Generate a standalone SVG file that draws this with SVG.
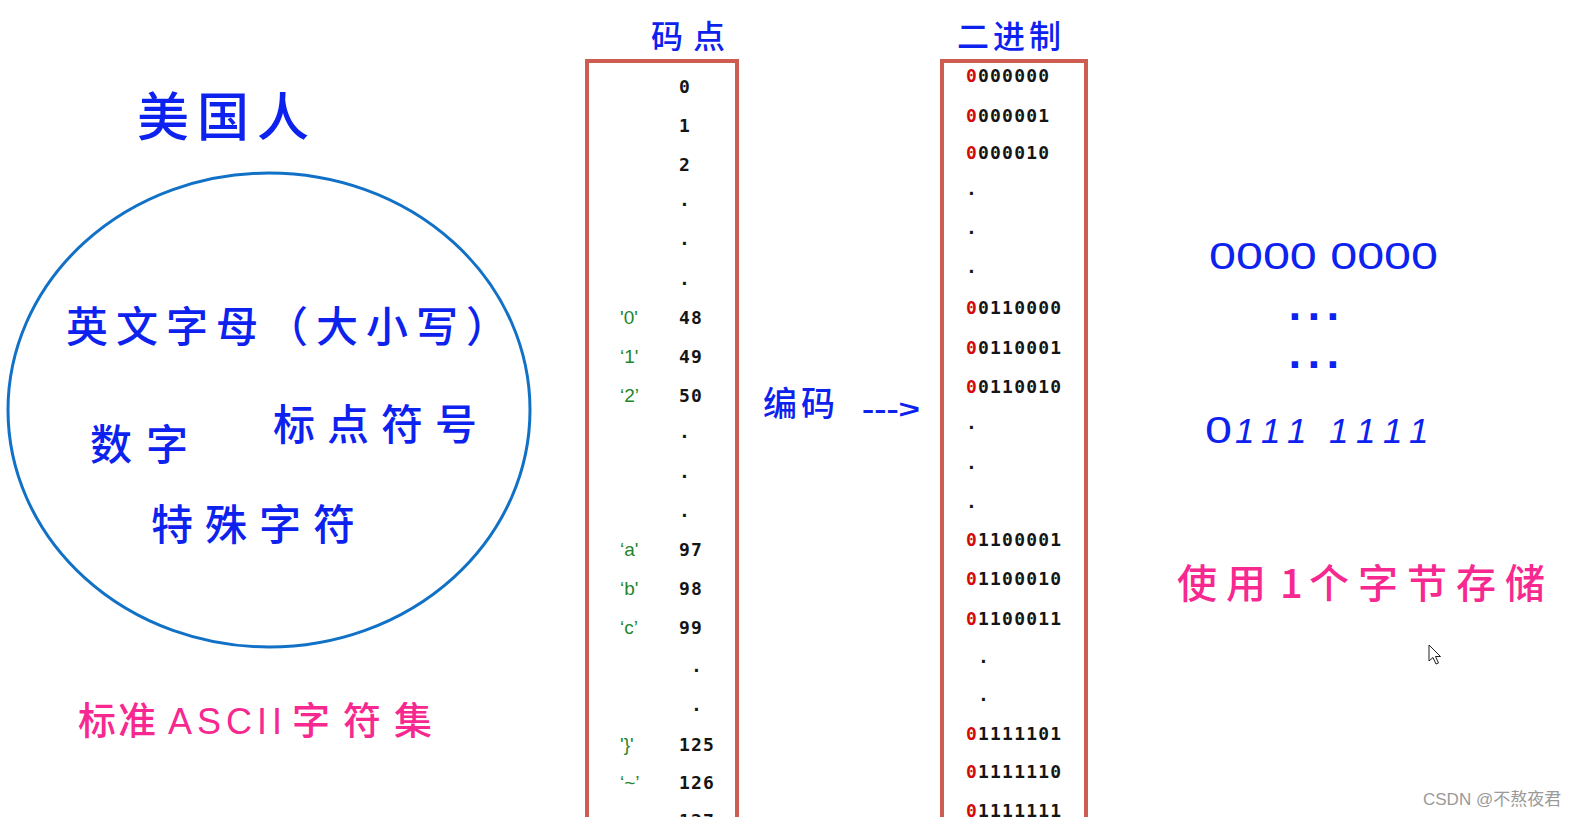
<svg xmlns="http://www.w3.org/2000/svg" width="1575" height="817" viewBox="0 0 1575 817">
<style>
.mono{font-family:"DejaVu Sans Mono","Liberation Mono",monospace;font-weight:bold;font-size:18px;letter-spacing:1.2px;fill:#151515}
.red{fill:#d40a0a}
.g{font-family:"Liberation Sans",Arial,sans-serif;font-size:19px;fill:#22862b}
.cjk{font-family:"Noto Sans CJK SC",sans-serif;font-weight:500}
.blue{fill:#0d22ee}
.pink{fill:#f7288f}
.box{fill:none;stroke:#cd5d50;stroke-width:4}
.lat{font-family:"Liberation Sans",Arial,sans-serif}
</style>
<rect width="1575" height="817" fill="#ffffff"/>

<g id="left-panel">
  <text class="cjk blue" x="137" y="136" font-size="52" letter-spacing="8">美国人</text>
  <ellipse cx="269" cy="410" rx="261" ry="237" fill="none" stroke="#1171c6" stroke-width="3"/>
  <text class="cjk blue" x="66" y="342" font-size="42" letter-spacing="8">英文字母（大小写）</text>
  <text class="cjk blue" x="90" y="460" font-size="42" letter-spacing="14">数字</text>
  <text class="cjk blue" x="273" y="440" font-size="42" letter-spacing="12">标点符号</text>
  <text class="cjk blue" x="151" y="540" font-size="42" letter-spacing="12">特殊字符</text>
  <text class="cjk pink" y="734" font-size="38"><tspan x="78" letter-spacing="2">标准</tspan><tspan class="lat" x="168" font-size="36" letter-spacing="5">ASCII</tspan><tspan x="292" letter-spacing="13">字符集</tspan></text>
</g>

<g id="codepoints">
  <text class="cjk blue" x="651" y="48" font-size="32" letter-spacing="10">码点</text>
  <rect class="box" x="587" y="61" width="150" height="780"/>
  <text class="mono" x="679" y="92.5">0</text>
  <text class="mono" x="679" y="131.5">1</text>
  <text class="mono" x="679" y="170.5">2</text>
  <text class="mono" x="679" y="205.5">.</text>
  <text class="mono" x="679" y="244.5">.</text>
  <text class="mono" x="679" y="284.5">.</text>
  <text class="g" x="620" y="323.5">'0'</text>
  <text class="mono" x="679" y="323.5">48</text>
  <text class="g" x="620" y="362.5">‘1'</text>
  <text class="mono" x="679" y="362.5">49</text>
  <text class="g" x="620" y="401.5">‘2’</text>
  <text class="mono" x="679" y="401.5">50</text>
  <text class="mono" x="679" y="437.5">.</text>
  <text class="mono" x="679" y="477.5">.</text>
  <text class="mono" x="679" y="516.5">.</text>
  <text class="g" x="620" y="555.5">‘a'</text>
  <text class="mono" x="679" y="555.5">97</text>
  <text class="g" x="620" y="594.5">‘b'</text>
  <text class="mono" x="679" y="594.5">98</text>
  <text class="g" x="620" y="633.5">‘c’</text>
  <text class="mono" x="679" y="633.5">99</text>
  <text class="mono" x="691" y="671.5">.</text>
  <text class="mono" x="691" y="710.5">.</text>
  <text class="g" x="620" y="750.5">'}'</text>
  <text class="mono" x="679" y="750.5">125</text>
  <text class="g" x="620" y="788.5">‘~’</text>
  <text class="mono" x="679" y="788.5">126</text>
  <text class="mono" x="679" y="827">127</text>
</g>

<g id="connectors">
  <text class="cjk blue" x="763" y="415.5" font-size="34" letter-spacing="4">编码</text>
  <text class="lat" x="862" y="417.5" font-weight="bold" font-size="26" fill="#0d22ee" textLength="58" lengthAdjust="spacingAndGlyphs">---&gt;</text>
</g>

<g id="binary">
  <text class="cjk blue" x="957" y="48" font-size="32" letter-spacing="4">二进制</text>
  <rect class="box" x="942" y="61" width="144" height="780"/>
  <text class="mono" x="966" y="81.5"><tspan class="red">0</tspan>000000</text>
  <text class="mono" x="966" y="121.5"><tspan class="red">0</tspan>000001</text>
  <text class="mono" x="966" y="158.5"><tspan class="red">0</tspan>000010</text>
  <text class="mono" x="966" y="194.5">.</text>
  <text class="mono" x="966" y="233.5">.</text>
  <text class="mono" x="966" y="272.5">.</text>
  <text class="mono" x="966" y="313.5"><tspan class="red">0</tspan>0110000</text>
  <text class="mono" x="966" y="353.5"><tspan class="red">0</tspan>0110001</text>
  <text class="mono" x="966" y="392.5"><tspan class="red">0</tspan>0110010</text>
  <text class="mono" x="966" y="428.5">.</text>
  <text class="mono" x="966" y="468.5">.</text>
  <text class="mono" x="966" y="507.5">.</text>
  <text class="mono" x="966" y="545.5"><tspan class="red">0</tspan>1100001</text>
  <text class="mono" x="966" y="584.5"><tspan class="red">0</tspan>1100010</text>
  <text class="mono" x="966" y="624.5"><tspan class="red">0</tspan>1100011</text>
  <text class="mono" x="978" y="662.5">.</text>
  <text class="mono" x="978" y="700.5">.</text>
  <text class="mono" x="966" y="739.5"><tspan class="red">0</tspan>1111101</text>
  <text class="mono" x="966" y="777.5"><tspan class="red">0</tspan>1111110</text>
  <text class="mono" x="966" y="816.5"><tspan class="red">0</tspan>1111111</text>
</g>

<g id="byte-range">
  <text class="lat" x="1209" y="269" font-size="36" fill="#0d22ee" textLength="229" lengthAdjust="spacingAndGlyphs">0000 0000</text>
  <text x="1288" y="320" font-family="DejaVu Sans,sans-serif" font-weight="bold" font-size="36" fill="#0d22ee" letter-spacing="5.3">...</text>
  <text x="1288" y="368" font-family="DejaVu Sans,sans-serif" font-weight="bold" font-size="36" fill="#0d22ee" letter-spacing="5.3">...</text>
  <text class="lat" x="1205" y="442.5" font-size="36" fill="#0d22ee" textLength="27" lengthAdjust="spacingAndGlyphs">0</text>
  <text class="lat" x="1235 1261 1287 1300 1329 1356 1383 1409" y="442.5" font-size="35" font-style="italic" fill="#0d22ee">111 1111</text>
  <text class="cjk pink" y="598" font-size="40"><tspan x="1177" letter-spacing="9">使用</tspan><tspan x="1280">1</tspan><tspan x="1309" letter-spacing="9">个字节存储</tspan></text>
</g>

<g id="cursor">
  <path d="M1429,645 L1429,661 L1433,657.5 L1436,664 L1438.5,663 L1435.5,656.5 L1440.5,656.5 Z" fill="#ffffff" stroke="#222" stroke-width="1" stroke-linejoin="round"/>
</g>

<g id="watermark">
  <text x="1423" y="805" font-family="Liberation Sans,Arial,'Noto Sans CJK SC',sans-serif" font-size="17" fill="#9a9a9a">CSDN @不熬夜君</text>
</g>
</svg>
